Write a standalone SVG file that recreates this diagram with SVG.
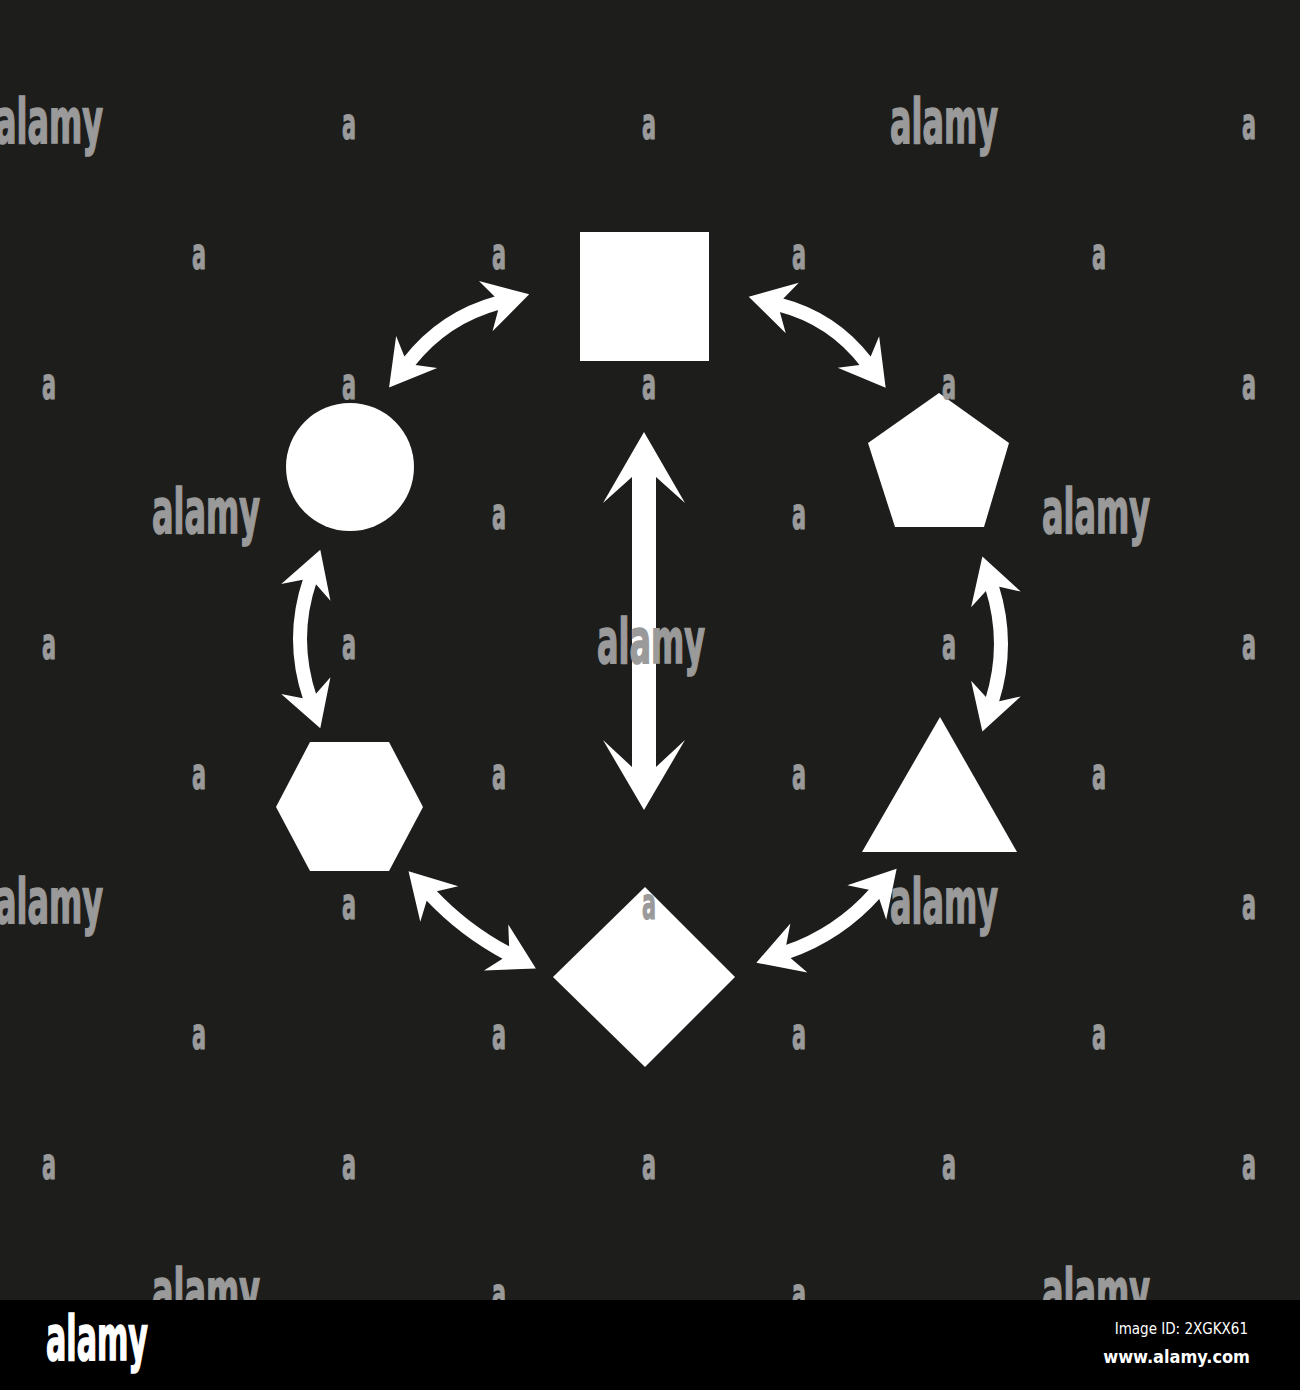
<svg xmlns="http://www.w3.org/2000/svg" width="1300" height="1390" viewBox="0 0 1300 1390">
<style>
.shape{fill:#ffffff}
.shaft{fill:none;stroke:#ffffff;stroke-width:14;stroke-linecap:butt;marker-start:url(#head);marker-end:url(#head)}
.wa{font-family:"Liberation Sans Narrow","DejaVu Sans Condensed","Liberation Sans",sans-serif;font-weight:bold;font-size:44px;fill:#9a9a9a;stroke:#9a9a9a;stroke-width:1.2;text-anchor:middle}
.wl{font-family:"Liberation Sans Narrow","DejaVu Sans Condensed","Liberation Sans",sans-serif;font-weight:bold;font-size:62px;fill:#9a9a9a;stroke:#9a9a9a;stroke-width:1.6}
.bar{font-family:"Liberation Sans Narrow","DejaVu Sans Condensed","Liberation Sans",sans-serif;fill:#ffffff}
</style>
<defs>
<marker id="head" markerUnits="userSpaceOnUse" orient="auto-start-reverse" refX="0" refY="0" markerWidth="100" markerHeight="100" viewBox="-50 -50 100 100" overflow="visible">
<path d="M32,0 L-13,-26 L-2,-7 L-2,7 L-13,26 Z" fill="#ffffff"/>
</marker>
</defs>
<rect x="0" y="0" width="1300" height="1390" fill="#1d1d1c"/>

<g id="node-square"><rect class="shape" x="580" y="232" width="129" height="129"/></g>
<g id="node-circle"><circle class="shape" cx="350" cy="467" r="64"/></g>
<g id="node-pentagon"><polygon class="shape" points="939,393 1009,443 984,527 895,527 868,443"/></g>
<g id="node-hexagon"><polygon class="shape" points="276,807 310,742 389,742 423,807 389,871 310,871"/></g>
<g id="node-triangle"><polygon class="shape" points="940,717 1017,852 862,852"/></g>
<g id="node-diamond"><polygon class="shape" points="645,887 735,977 645,1067 553,977"/></g>

<g id="connectors">
<path class="shaft" d="M408.7,362.3 Q443.5,317.5 498.3,302.7"/>
<path class="shaft" d="M779.7,304.7 Q833,318.5 866.3,362.3"/>
<path class="shaft" d="M310,580 Q290,639 310,698"/>
<path class="shaft" d="M992,587 Q1010,644 992,701"/>
<path class="shaft" d="M430.4,894.5 Q464,930.4 507.6,953.5"/>
<path class="shaft" d="M786.6,952.2 Q838.8,934.1 875.4,892.8"/>
<polygon class="shape" points="644,432 685,503 656,477 656,767 685,740 644,810 603,740 632,767 632,477 603,503"/>
</g>

<g id="watermark">
<text class="wl" x="-5" y="143" textLength="108" lengthAdjust="spacingAndGlyphs">alamy</text>
<text class="wa" x="349" y="139" textLength="14" lengthAdjust="spacingAndGlyphs">a</text>
<text class="wa" x="649" y="139" textLength="14" lengthAdjust="spacingAndGlyphs">a</text>
<text class="wl" x="890" y="143" textLength="108" lengthAdjust="spacingAndGlyphs">alamy</text>
<text class="wa" x="1249" y="139" textLength="14" lengthAdjust="spacingAndGlyphs">a</text>

<text class="wa" x="199" y="269" textLength="14" lengthAdjust="spacingAndGlyphs">a</text>
<text class="wa" x="499" y="269" textLength="14" lengthAdjust="spacingAndGlyphs">a</text>
<text class="wa" x="799" y="269" textLength="14" lengthAdjust="spacingAndGlyphs">a</text>
<text class="wa" x="1099" y="269" textLength="14" lengthAdjust="spacingAndGlyphs">a</text>

<text class="wa" x="49" y="399" textLength="14" lengthAdjust="spacingAndGlyphs">a</text>
<text class="wa" x="349" y="399" textLength="14" lengthAdjust="spacingAndGlyphs">a</text>
<text class="wa" x="649" y="399" textLength="14" lengthAdjust="spacingAndGlyphs">a</text>
<text class="wa" x="949" y="399" textLength="14" lengthAdjust="spacingAndGlyphs">a</text>
<text class="wa" x="1249" y="399" textLength="14" lengthAdjust="spacingAndGlyphs">a</text>

<text class="wl" x="152" y="533" textLength="108" lengthAdjust="spacingAndGlyphs">alamy</text>
<text class="wa" x="499" y="529" textLength="14" lengthAdjust="spacingAndGlyphs">a</text>
<text class="wa" x="799" y="529" textLength="14" lengthAdjust="spacingAndGlyphs">a</text>
<text class="wl" x="1042" y="533" textLength="108" lengthAdjust="spacingAndGlyphs">alamy</text>

<text class="wa" x="49" y="659" textLength="14" lengthAdjust="spacingAndGlyphs">a</text>
<text class="wa" x="349" y="659" textLength="14" lengthAdjust="spacingAndGlyphs">a</text>
<text class="wl" x="597" y="663" textLength="108" lengthAdjust="spacingAndGlyphs">alamy</text>
<text class="wa" x="949" y="659" textLength="14" lengthAdjust="spacingAndGlyphs">a</text>
<text class="wa" x="1249" y="659" textLength="14" lengthAdjust="spacingAndGlyphs">a</text>

<text class="wa" x="199" y="789" textLength="14" lengthAdjust="spacingAndGlyphs">a</text>
<text class="wa" x="499" y="789" textLength="14" lengthAdjust="spacingAndGlyphs">a</text>
<text class="wa" x="799" y="789" textLength="14" lengthAdjust="spacingAndGlyphs">a</text>
<text class="wa" x="1099" y="789" textLength="14" lengthAdjust="spacingAndGlyphs">a</text>

<text class="wl" x="-5" y="923" textLength="108" lengthAdjust="spacingAndGlyphs">alamy</text>
<text class="wa" x="349" y="919" textLength="14" lengthAdjust="spacingAndGlyphs">a</text>
<text class="wa" x="649" y="919" textLength="14" lengthAdjust="spacingAndGlyphs">a</text>
<text class="wl" x="890" y="923" textLength="108" lengthAdjust="spacingAndGlyphs">alamy</text>
<text class="wa" x="1249" y="919" textLength="14" lengthAdjust="spacingAndGlyphs">a</text>

<text class="wa" x="199" y="1049" textLength="14" lengthAdjust="spacingAndGlyphs">a</text>
<text class="wa" x="499" y="1049" textLength="14" lengthAdjust="spacingAndGlyphs">a</text>
<text class="wa" x="799" y="1049" textLength="14" lengthAdjust="spacingAndGlyphs">a</text>
<text class="wa" x="1099" y="1049" textLength="14" lengthAdjust="spacingAndGlyphs">a</text>

<text class="wa" x="49" y="1179" textLength="14" lengthAdjust="spacingAndGlyphs">a</text>
<text class="wa" x="349" y="1179" textLength="14" lengthAdjust="spacingAndGlyphs">a</text>
<text class="wa" x="649" y="1179" textLength="14" lengthAdjust="spacingAndGlyphs">a</text>
<text class="wa" x="949" y="1179" textLength="14" lengthAdjust="spacingAndGlyphs">a</text>
<text class="wa" x="1249" y="1179" textLength="14" lengthAdjust="spacingAndGlyphs">a</text>

<text class="wl" x="152" y="1313" textLength="108" lengthAdjust="spacingAndGlyphs">alamy</text>
<text class="wa" x="499" y="1309" textLength="14" lengthAdjust="spacingAndGlyphs">a</text>
<text class="wa" x="799" y="1309" textLength="14" lengthAdjust="spacingAndGlyphs">a</text>
<text class="wl" x="1042" y="1313" textLength="108" lengthAdjust="spacingAndGlyphs">alamy</text>
</g>

<g id="footer">
<rect x="0" y="1300" width="1300" height="90" fill="#000000"/>
<text class="bar" x="46" y="1360" font-size="62" font-weight="bold" stroke="#ffffff" stroke-width="1.6" textLength="102" lengthAdjust="spacingAndGlyphs">alamy</text>
<text class="bar" x="1248" y="1334" font-size="15" text-anchor="end">Image ID: 2XGKX61</text>
<text class="bar" x="1250" y="1363" font-size="18" font-weight="bold" text-anchor="end">www.alamy.com</text>
</g>
</svg>
